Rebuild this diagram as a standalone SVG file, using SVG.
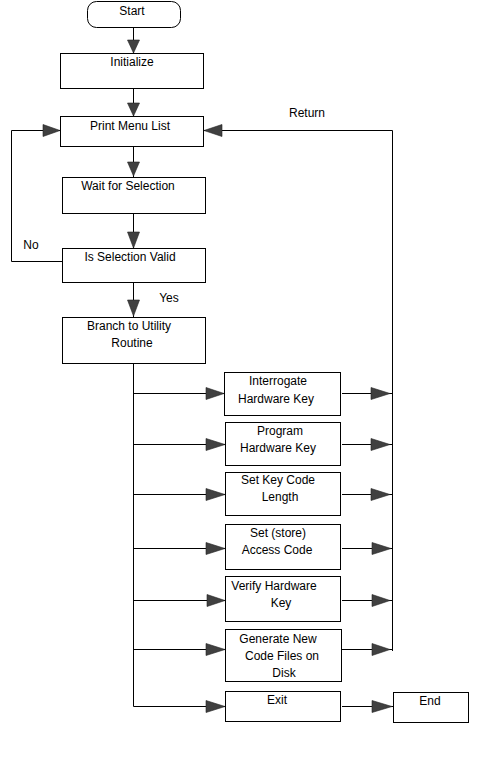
<svg xmlns="http://www.w3.org/2000/svg" width="479" height="764" viewBox="0 0 479 764">
<style>
.b{fill:#fff;stroke:#000;stroke-width:1}
.l{fill:none;stroke:#000;stroke-width:1}
.a{fill:#404040;stroke:#222;stroke-width:0.6}
text{font-family:"Liberation Sans",Arial,sans-serif;font-size:12px;fill:#000;text-anchor:middle}
</style>
<rect width="479" height="764" fill="#fff"/>
<g id="connectors">
<path class="l" d="M133.5 27V53M133.5 88V116M133.5 146V177M133.5 213V248M133.5 282V317M133.5 363V706.5"/>
<path class="l" d="M62 261.5H11.5V130.5H60"/>
<path class="l" d="M203 130.5H392.5V651"/>
<path class="l" d="M133.5 393.5H224M133.5 444.5H225M133.5 494.5H225M133.5 548.5H225M133.5 600.5H225M133.5 649.5H225M133.5 706.5H225"/>
<path class="l" d="M342 393.5H392M342 444.5H392M342 494.5H392M342 548.5H392M342 600.5H392M342 649.5H392M342 706.5H393"/>
<polygon class="a" points="127.5,40 139.5,40 133.5,53"/>
<polygon class="a" points="127.5,103 139.5,103 133.5,116"/>
<polygon class="a" points="127.5,162 139.5,162 133.5,176"/>
<polygon class="a" points="127.5,232 139.5,232 133.5,248"/>
<polygon class="a" points="127.5,300 139.5,300 133.5,316"/>
<polygon class="a" points="43,124.5 43,136.5 60,130.5"/>
<polygon class="a" points="222,124.5 222,136.5 204,130.5"/>
<polygon class="a" points="206,387.5 206,399.5 224,393.5"/>
<polygon class="a" points="206,438.5 206,450.5 225,444.5"/>
<polygon class="a" points="206,488.5 206,500.5 225,494.5"/>
<polygon class="a" points="206,542.5 206,554.5 225,548.5"/>
<polygon class="a" points="207,594.5 207,606.5 225,600.5"/>
<polygon class="a" points="206,643.5 206,655.5 225,649.5"/>
<polygon class="a" points="206,700.5 206,712.5 225,706.5"/>
<polygon class="a" points="371,387.5 371,399.5 390,393.5"/>
<polygon class="a" points="371,438.5 371,450.5 390,444.5"/>
<polygon class="a" points="371,488.5 371,500.5 390,494.5"/>
<polygon class="a" points="372,542.5 372,554.5 391,548.5"/>
<polygon class="a" points="372,594.5 372,606.5 390,600.5"/>
<polygon class="a" points="372,643.5 372,655.5 390,649.5"/>
<polygon class="a" points="372,700.5 372,712.5 392,706.5"/>
<text x="307" y="117">Return</text>
<text x="31" y="249">No</text>
<text x="169" y="302">Yes</text>
</g>
<g id="start"><rect class="b" x="87.5" y="1.5" width="93" height="26" rx="9"/><text x="132" y="15">Start</text></g>
<g id="initialize"><rect class="b" x="60.5" y="53.5" width="143" height="35"/><text x="132" y="66">Initialize</text></g>
<g id="print-menu"><rect class="b" x="60.5" y="116.5" width="143" height="30"/><text x="130" y="130">Print Menu List</text></g>
<g id="wait"><rect class="b" x="62.5" y="177.5" width="143" height="36"/><text x="128" y="190">Wait for Selection</text></g>
<g id="valid"><rect class="b" x="62.5" y="248.5" width="143" height="34"/><text x="130" y="261">Is Selection Valid</text></g>
<g id="branch"><rect class="b" x="62.5" y="317.5" width="143" height="46"/><text x="129" y="330">Branch to Utility</text><text x="132" y="347">Routine</text></g>
<g id="interrogate"><rect class="b" x="224.5" y="372.5" width="116" height="43"/><text x="278" y="385">Interrogate</text><text x="276" y="403">Hardware Key</text></g>
<g id="program"><rect class="b" x="225.5" y="422.5" width="115" height="43"/><text x="280" y="435">Program</text><text x="278" y="452">Hardware Key</text></g>
<g id="keylength"><rect class="b" x="225.5" y="472.5" width="115" height="43"/><text x="278" y="484">Set Key Code</text><text x="280" y="501">Length</text></g>
<g id="accesscode"><rect class="b" x="225.5" y="524.5" width="115" height="45"/><text x="278" y="537">Set (store)</text><text x="277" y="554">Access Code</text></g>
<g id="verify"><rect class="b" x="225.5" y="576.5" width="115" height="45"/><text x="274" y="590">Verify Hardware</text><text x="281" y="607">Key</text></g>
<g id="generate"><rect class="b" x="225.5" y="629.5" width="116" height="52"/><text x="278" y="643">Generate New</text><text x="282" y="660">Code Files on</text><text x="284" y="677">Disk</text></g>
<g id="exit"><rect class="b" x="225.5" y="691.5" width="115" height="30"/><text x="277" y="704">Exit</text></g>
<g id="end"><rect class="b" x="393.5" y="692.5" width="75" height="30"/><text x="430" y="705">End</text></g>
</svg>
